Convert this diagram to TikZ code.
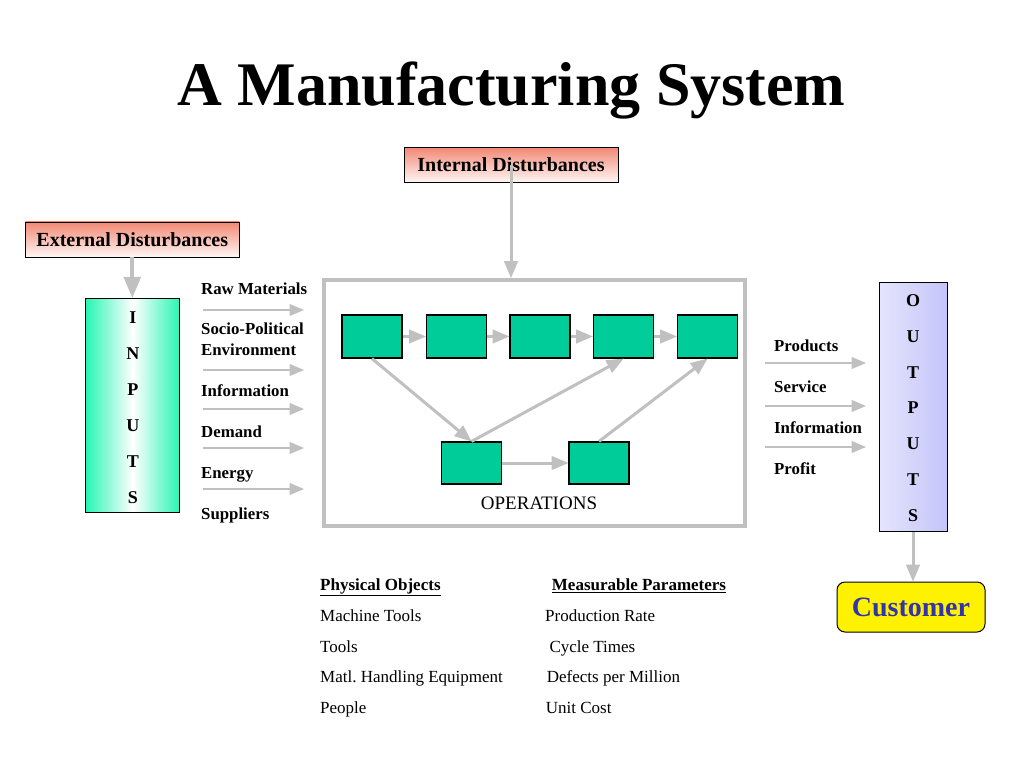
\documentclass[tikz,border=0pt]{standalone}
\usepackage{fontspec}
\setmainfont{Liberation Serif}
\usetikzlibrary{arrows}

\definecolor{opgreen}{RGB}{0,204,153}
\definecolor{lngray}{RGB}{192,192,192}
\definecolor{inpgreen}{RGB}{40,245,180}
\definecolor{outlav}{RGB}{196,196,250}
\definecolor{salmon}{RGB}{242,135,115}
\definecolor{custblue}{RGB}{51,51,170}

\begin{document}
\begin{tikzpicture}[x=1pt,y=-1pt,>=triangle 45,
  lbl/.style={font=\fontsize{16.8}{20}\selectfont\bfseries, anchor=base west, inner sep=0},
  txt/.style={font=\fontsize{17}{20}\selectfont, anchor=base west, inner sep=0},
  letter/.style={font=\fontsize{18}{20}\selectfont\bfseries, anchor=base, inner sep=0},
  disturb/.style={rectangle, draw, top color=salmon, bottom color=salmon!8,
                  minimum width=214pt, minimum height=35pt},
  opbox/.style={rectangle, draw, line width=1.2pt, fill=opgreen,
                minimum width=60pt, minimum height=43pt},
  flow/.style={->, draw=lngray, line width=3pt},
  feed/.style={->, draw=lngray, line width=2.4pt}]

  \useasboundingbox (0,0) rectangle (1024,768);

  \node[font=\fontsize{62}{70}\selectfont\bfseries, anchor=base, inner sep=0
        ] (title) at (511.5,105) {A Manufacturing System};

  % disturbances
  \node[disturb] (intd) at (511,164.5) {};
  \node[font=\fontsize{20}{22}\selectfont\bfseries] (intdtxt) at (intd.center) {Internal Disturbances};

  \node[disturb] (extd) at (132.3,239.2) {};
  \node[font=\fontsize{20}{22}\selectfont\bfseries] (extdtxt) at (extd.center) {External Disturbances};

  % inputs
  \node[rectangle,
        draw,
        line width=1pt,
        left color=inpgreen, right color=inpgreen, middle color=white,
        minimum width = 94pt,
        minimum height = 214pt
        ] (inp) at (132.8,405.3) {};
  \foreach \l [count=\i from 0] in {I,N,P,U,T,S}
    \node[letter] (inp\i) at (132.8,323+36*\i) {\l};

  \node[lbl] (raw) at (201,294) {Raw Materials};
  \node[lbl] (soc) at (201,334) {Socio-Political};
  \node[lbl] (env) at (201,355) {Environment};
  \node[lbl] (info) at (201,396) {Information};
  \node[lbl] (dem) at (201,437) {Demand};
  \node[lbl] (ener) at (201,478) {Energy};
  \node[lbl] (sup) at (201,519) {Suppliers};

  \foreach \y [count=\i] in {310,370,409,448,489} {
    \coordinate (ia\i) at (203,\y);
    \coordinate (ib\i) at (304,\y);
    \draw[feed] (ia\i) -- (ib\i);
  }

  % operations
  \node[rectangle,
        draw = lngray,
        line width = 4pt,
        minimum width = 421pt,
        minimum height = 246pt
        ] (ops) at (534.2,403) {};
  \node[font=\fontsize{19}{20}\selectfont, anchor=base, inner sep=0] (opslbl) at (539,509) {OPERATIONS};

  \foreach \x [count=\i] in {372,456.5,540,623.5,707.5}
    \node[opbox] (op\i) at (\x,336.5) {};
  \node[opbox, minimum height=42pt] (op6) at (471.5,463) {};
  \node[opbox, minimum height=42pt] (op7) at (599,463) {};

  % outputs
  \node[rectangle,
        draw,
        line width=1pt,
        left color=outlav!45, right color=outlav,
        minimum width = 68pt,
        minimum height = 249pt
        ] (outp) at (913,406.5) {};
  \foreach \l [count=\i from 0] in {O,U,T,P,U,T,S}
    \node[letter] (outp\i) at (913,306.5+35.8*\i) {\l};

  \node[lbl] (prod) at (774,351) {Products};
  \node[lbl] (serv) at (774,392) {Service};
  \node[lbl] (oinfo) at (774,433) {Information};
  \node[lbl] (prof) at (774,474) {Profit};

  \foreach \y [count=\i] in {363,406,447} {
    \coordinate (oa\i) at (765,\y);
    \coordinate (ob\i) at (866,\y);
    \draw[feed] (oa\i) -- (ob\i);
  }

  \node[rectangle,
        draw,
        line width=1pt,
        rounded corners=8pt,
        fill = yellow,
        minimum width = 148pt,
        minimum height = 50pt
        ] (cust) at (911,607) {};
  \node[font=\fontsize{28}{30}\selectfont\bfseries, text=custblue] (custtxt) at (cust.center) {Customer};

  % objects and parameters
  \node[txt, font=\fontsize{17}{20}\selectfont\bfseries] (phys) at (320,590.5) {\underline{Physical Objects}};
  \node[txt] (mach) at (320,621.7) {Machine Tools};
  \node[txt] (tools) at (320,652) {Tools};
  \node[txt] (matl) at (320,682.7) {Matl.\ Handling Equipment};
  \node[txt] (peop) at (320,713.3) {People};

  \node[txt, font=\fontsize{17}{20}\selectfont\bfseries] (meas) at (551.7,590.5) {\underline{Measurable Parameters}};
  \node[txt] (rate) at (545,621.7) {Production Rate};
  \node[txt] (cyc) at (549.3,652) {Cycle Times};
  \node[txt] (dpm) at (546.7,682.7) {Defects per Million};
  \node[txt] (cost) at (545.7,713.3) {Unit Cost};

  %operations path
  \draw[flow] (op1) -- (op2);
  \draw[flow] (op2) -- (op3);
  \draw[flow] (op3) -- (op4);
  \draw[flow] (op4) -- (op5);
  \draw[flow] (op1.south) -- (op6.north);
  \draw[flow] (op6.north) -- (op4.south);
  \draw[flow] (op6) -- (op7);
  \draw[flow] (op7.north) -- (op5.south);

  \draw[flow] (intd.center) -- (intd.center |- ops.north);
  \draw[flow, line width=4pt] (extd.south) -- (extd.south |- inp.north);
  \draw[flow] (outp.south) -- (outp.south |- cust.north);

\end{tikzpicture}
\end{document}
